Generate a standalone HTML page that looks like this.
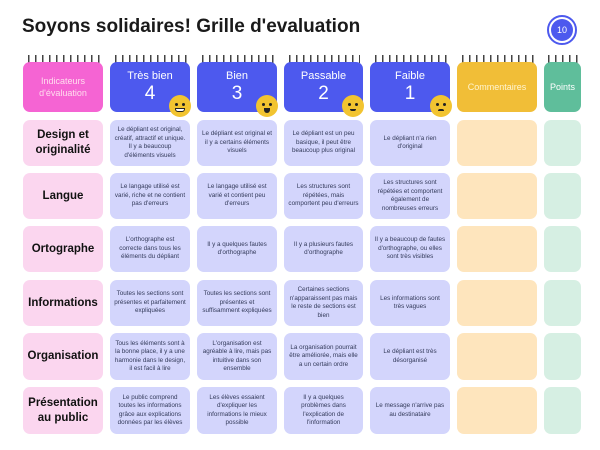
<!DOCTYPE html>
<html><head><meta charset="utf-8"><style>
body{margin:0;width:600px;height:450px;background:#fff;font-family:"Liberation Sans",sans-serif;position:relative;overflow:hidden}
.a{position:absolute;box-sizing:border-box;border-radius:7px;display:flex;align-items:center;justify-content:center;text-align:center}
.h{color:#fff;flex-direction:column;font-size:11px;line-height:13px}
.h b{font-weight:normal;font-size:19px;line-height:22px}
.c{font-size:6.3px;line-height:8.5px;color:#333a5a;padding:0 4px;background:#d3d5fc}
.i{background:#fbd6ef;font-weight:bold;font-size:11.5px;line-height:15px;color:#111}
.o{background:#fee5bd}.g{background:#d6efe3}
.r{position:absolute;height:8px;background:repeating-linear-gradient(90deg,transparent 0 2px,#444 2px 3.5px,transparent 3.5px 7px)}
.e{position:absolute;width:22px;height:22px;border-radius:50%;background:#f2c430}
.e::before,.e::after{content:"";position:absolute;top:8px;width:3px;height:3px;border-radius:50%;background:#222}
.e::before{left:6px}.e::after{right:6px}
.m{position:absolute;left:8px;top:13px;width:6px;height:3px;background:#222;border-radius:0 0 3px 3px}
</style></head><body>
<div style="position:absolute;left:22px;top:16px;font-size:19px;font-weight:bold;color:#1a1a1a">Soyons solidaires! Grille d'evaluation</div>
<div style="position:absolute;left:547px;top:15px;width:30px;height:30px;border-radius:50%;border:2px solid #4d59ee;box-sizing:border-box"></div>
<div style="position:absolute;left:551px;top:19px;width:22px;height:22px;border-radius:50%;background:#4d59ee;color:#fff;font-size:9px;line-height:22px;text-align:center">10</div>

<div class="r" style="left:26px;top:55px;width:74px"></div>
<div class="r" style="left:113px;top:55px;width:74px"></div>
<div class="r" style="left:200px;top:55px;width:74px"></div>
<div class="r" style="left:287px;top:55px;width:73px"></div>
<div class="r" style="left:373px;top:55px;width:74px"></div>
<div class="r" style="left:460px;top:55px;width:74px"></div>
<div class="r" style="left:546px;top:55px;width:33px"></div>

<div class="a h" style="left:23px;top:62px;width:80px;height:50px;background:#f564d3;font-size:9px;line-height:12px;color:#fde">Indicateurs<br>d'évaluation</div>
<div class="a h" style="left:110px;top:62px;width:80px;height:50px;background:#4d59ee">Très bien<b>4</b></div>
<div class="a h" style="left:197px;top:62px;width:80px;height:50px;background:#4d59ee">Bien<b>3</b></div>
<div class="a h" style="left:284px;top:62px;width:79px;height:50px;background:#4d59ee">Passable<b>2</b></div>
<div class="a h" style="left:370px;top:62px;width:80px;height:50px;background:#4d59ee">Faible<b>1</b></div>
<div class="a h" style="left:457px;top:62px;width:80px;height:50px;background:#f1be37;font-size:9px;color:#fff4d0">Commentaires</div>
<div class="a h" style="left:544px;top:62px;width:37px;height:50px;background:#5fbe9b;font-size:9px">Points</div>
<div class="e" style="left:169px;top:95px"><div class="m" style="left:6px;width:10px;height:4px;background:#fff;border:1px solid #222;box-sizing:border-box"></div></div>
<div class="e" style="left:256px;top:95px"><div class="m" style="height:5px"></div></div>
<div class="e" style="left:342px;top:95px"><div class="m" style="height:1.5px;top:14px"></div></div>
<div class="e" style="left:430px;top:95px"><div class="m" style="height:2px;top:14px;border-radius:3px 3px 0 0"></div></div>

<div class="a i" style="left:23px;top:120px;width:80px;height:46px">Design et<br>originalité</div>
<div class="a c" style="left:110px;top:120px;width:80px;height:46px">Le dépliant est original, créatif, attractif et unique. Il y a beaucoup d'éléments visuels</div>
<div class="a c" style="left:197px;top:120px;width:80px;height:46px">Le dépliant est original et il y a certains éléments visuels</div>
<div class="a c" style="left:284px;top:120px;width:79px;height:46px">Le dépliant est un peu basique, il peut être beaucoup plus original</div>
<div class="a c" style="left:370px;top:120px;width:80px;height:46px">Le dépliant n'a rien d'original</div>
<div class="a o" style="left:457px;top:120px;width:80px;height:46px"></div>
<div class="a g" style="left:544px;top:120px;width:37px;height:46px"></div>

<div class="a i" style="left:23px;top:173px;width:80px;height:46px">Langue</div>
<div class="a c" style="left:110px;top:173px;width:80px;height:46px">Le langage utilisé est varié, riche et ne contient pas d'erreurs</div>
<div class="a c" style="left:197px;top:173px;width:80px;height:46px">Le langage utilisé est varié et contient peu d'erreurs</div>
<div class="a c" style="left:284px;top:173px;width:79px;height:46px">Les structures sont répétées, mais comportent peu d'erreurs</div>
<div class="a c" style="left:370px;top:173px;width:80px;height:46px">Les structures sont répétées et comportent également de nombreuses erreurs</div>
<div class="a o" style="left:457px;top:173px;width:80px;height:46px"></div>
<div class="a g" style="left:544px;top:173px;width:37px;height:46px"></div>

<div class="a i" style="left:23px;top:226px;width:80px;height:46px">Ortographe</div>
<div class="a c" style="left:110px;top:226px;width:80px;height:46px">L'orthographe est correcte dans tous les éléments du dépliant</div>
<div class="a c" style="left:197px;top:226px;width:80px;height:46px">Il y a quelques fautes d'orthographe</div>
<div class="a c" style="left:284px;top:226px;width:79px;height:46px">Il y a plusieurs fautes d'orthographe</div>
<div class="a c" style="left:370px;top:226px;width:80px;height:46px">Il y a beaucoup de fautes d'orthographe, ou elles sont très visibles</div>
<div class="a o" style="left:457px;top:226px;width:80px;height:46px"></div>
<div class="a g" style="left:544px;top:226px;width:37px;height:46px"></div>

<div class="a i" style="left:23px;top:280px;width:80px;height:46px">Informations</div>
<div class="a c" style="left:110px;top:280px;width:80px;height:46px">Toutes les sections sont présentes et parfaitement expliquées</div>
<div class="a c" style="left:197px;top:280px;width:80px;height:46px">Toutes les sections sont présentes et suffisamment expliquées</div>
<div class="a c" style="left:284px;top:280px;width:79px;height:46px">Certaines sections n'apparaissent pas mais le reste de sections est bien</div>
<div class="a c" style="left:370px;top:280px;width:80px;height:46px">Les informations sont très vagues</div>
<div class="a o" style="left:457px;top:280px;width:80px;height:46px"></div>
<div class="a g" style="left:544px;top:280px;width:37px;height:46px"></div>

<div class="a i" style="left:23px;top:333px;width:80px;height:47px">Organisation</div>
<div class="a c" style="left:110px;top:333px;width:80px;height:47px">Tous les éléments sont à la bonne place, il y a une harmonie dans le design, il est facil à lire</div>
<div class="a c" style="left:197px;top:333px;width:80px;height:47px">L'organisation est agréable à lire, mais pas intuitive dans son ensemble</div>
<div class="a c" style="left:284px;top:333px;width:79px;height:47px">La organisation pourrait être améliorée, mais elle a un certain ordre</div>
<div class="a c" style="left:370px;top:333px;width:80px;height:47px">Le dépliant est très désorganisé</div>
<div class="a o" style="left:457px;top:333px;width:80px;height:47px"></div>
<div class="a g" style="left:544px;top:333px;width:37px;height:47px"></div>

<div class="a i" style="left:23px;top:387px;width:80px;height:47px">Présentation<br>au public</div>
<div class="a c" style="left:110px;top:387px;width:80px;height:47px">Le public comprend toutes les informations grâce aux explications données par les élèves</div>
<div class="a c" style="left:197px;top:387px;width:80px;height:47px">Les élèves essaient d'expliquer les informations le mieux possible</div>
<div class="a c" style="left:284px;top:387px;width:79px;height:47px">Il y a quelques problèmes dans l'explication de l'information</div>
<div class="a c" style="left:370px;top:387px;width:80px;height:47px">Le message n'arrive pas au destinataire</div>
<div class="a o" style="left:457px;top:387px;width:80px;height:47px"></div>
<div class="a g" style="left:544px;top:387px;width:37px;height:47px"></div>
</body></html>
